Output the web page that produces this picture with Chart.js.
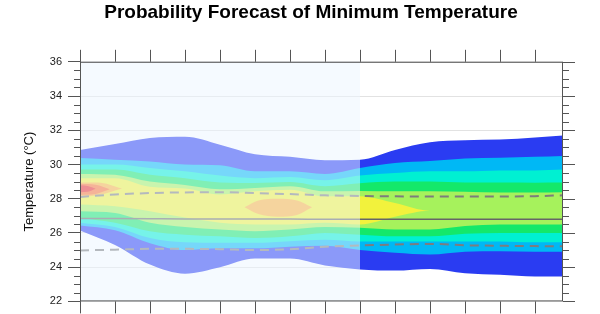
<!DOCTYPE html>
<html>
<head>
<meta charset="utf-8">
<script src="https://cdn.jsdelivr.net/npm/chart.js@4.4.0/dist/chart.umd.min.js"></script>
<style>
  html, body { margin: 0; padding: 0; background: #fff; }
</style>
</head>
<body>
<canvas id="chart" width="600" height="314"></canvas>
<script>
// forecast days (x axis), last point is the right edge of the plot
const days = [0, 1, 2, 3, 4, 5, 6, 7, 8, 9, 10, 11, 12, 13, 13.8];
const hindcastEnd = 8; // left part of the plot is shown faded
const dayTicks = [0, 1, 2, 3, 4, 5, 6, 7, 8, 9, 10, 11, 12, 13];
const tempTicks = [22, 24, 26, 28, 30, 32, 34, 36];

// probability contour boundaries, outermost to innermost (deg C)
const outerTop   = [30.85, 31.2, 31.55, 31.62, 31.16, 30.6, 30.45, 30.25, 30.28, 30.85, 31.3, 31.42, 31.46, 31.58, 31.7];
const blueTop    = [30.38, 30.28, 30.18, 30.0, 29.95, 29.6, 29.6, 29.45, 29.8, 30.09, 30.2, 30.35, 30.4, 30.45, 30.5];
const aquaTop    = [30.0, 30.0, 29.8, 29.6, 29.35, 29.2, 29.27, 29.08, 29.35, 29.5, 29.6, 29.6, 29.65, 29.65, 29.7];
const greenTop   = [29.7, 29.7, 29.4, 29.2, 28.95, 28.92, 28.98, 28.73, 28.9, 29.0, 29.0, 28.95, 28.95, 28.94, 28.95];
const limeTop    = [29.45, 29.4, 29.0, 28.8, 28.55, 28.63, 28.73, 28.43, 28.45, 28.43, 28.43, 28.4, 28.36, 28.36, 28.38];
const yellowTop  = [29.2, 29.2, 28.7, 28.6, 28.25, 28.43, 28.53, 28.14, 28.15, 27.75, 27.3, 27.3, 27.3, 27.3, 27.3];
const yellowBot  = [27.66, 27.56, 27.27, 26.9, 26.6, 26.5, 26.5, 26.6, 26.5, 26.95, 27.3, 27.3, 27.3, 27.3, 27.3];
const limeBot    = [27.27, 27.17, 26.6, 26.35, 26.2, 26.1, 26.2, 26.35, 26.3, 26.2, 26.2, 26.4, 26.5, 26.5, 26.5];
const greenBot   = [26.88, 26.6, 26.1, 25.9, 25.8, 25.7, 25.8, 26.0, 25.9, 25.8, 25.8, 25.95, 26.0, 26.0, 26.0];
const aquaBot    = [26.6, 26.35, 25.7, 25.45, 25.42, 25.42, 25.52, 25.6, 25.5, 25.5, 25.5, 25.5, 25.5, 25.45, 25.45];
const blueBot    = [26.43, 26.16, 25.4, 25.0, 25.1, 25.1, 25.2, 25.25, 25.0, 24.84, 24.74, 24.9, 24.93, 24.9, 24.9];
const outerBot   = [26.15, 25.3, 24.15, 23.62, 24.0, 24.5, 24.5, 24.1, 23.87, 23.8, 23.9, 23.65, 23.55, 23.45, 23.45];

// high probability cores
const coreDays     = [0, 0.5, 1.2];
const coreTop      = [28.95, 28.95, 28.6];
const coreBot      = [28.12, 28.2, 28.6];
const hotDays      = [0, 0.45, 0.85];
const hotTop       = [28.88, 28.82, 28.55];
const hotBot       = [28.22, 28.28, 28.55];
const peakDays     = [0, 0.22, 0.45];
const peakTop      = [28.78, 28.74, 28.58];
const peakBot      = [28.38, 28.4, 28.58];
const midCoreDays  = [4.7, 5.1, 5.65, 6.2, 6.63];
const midCoreTop   = [27.5, 27.9, 28.0, 27.9, 27.5];
const midCoreBot   = [27.5, 27.1, 26.95, 27.05, 27.5];

// median and 10/90 percentile lines
const median   = [26.85, 26.84, 26.83, 26.82, 26.82, 26.81, 26.81, 26.8, 26.8, 26.8, 26.8, 26.8, 26.8, 26.8, 26.8];
const upperPct = [28.1, 28.25, 28.33, 28.37, 28.38, 28.33, 28.27, 28.2, 28.16, 28.14, 28.13, 28.13, 28.13, 28.15, 28.2];
const lowerPct = [24.98, 25.02, 25.07, 25.07, 25.05, 25.0, 25.05, 25.2, 25.27, 25.32, 25.36, 25.28, 25.25, 25.23, 25.22];

function pts(xs, ys) {
    return xs.map((x, i) => ({ x: x, y: ys[i] }));
}

const hidden = { borderColor: 'rgba(0,0,0,0)', borderWidth: 0, pointRadius: 0, cubicInterpolationMode: 'monotone' };

function band(xs, lower, upper, color, order) {
    return [
        Object.assign({ data: pts(xs, lower), fill: false, order: order }, hidden),
        Object.assign({ data: pts(xs, upper), fill: '-1', backgroundColor: color, order: order }, hidden)
    ];
}

function line(ys, color, width, dash) {
    return {
        data: pts(days, ys),
        borderColor: color,
        borderWidth: width,
        borderDash: dash,
        pointRadius: 0,
        fill: false,
        cubicInterpolationMode: 'monotone',
        order: 0
    };
}

const datasets = [
    line(median, '#666666', 1.5, []),
    line(upperPct, '#7d7d7d', 2, [9, 6]),
    line(lowerPct, '#7d7d7d', 2, [9, 6]),
    ...band(days, outerBot, outerTop, '#2a3cf2', 20),
    ...band(days, blueBot, blueTop, '#00b8f5', 19),
    ...band(days, aquaBot, aquaTop, '#00f0d2', 18),
    ...band(days, greenBot, greenTop, '#14e86a', 17),
    ...band(days, limeBot, limeTop, '#a6f25c', 16),
    ...band(days, yellowBot, yellowTop, '#f2f23c', 15),
    ...band(coreDays, coreBot, coreTop, '#ffb23c', 14),
    ...band(midCoreDays, midCoreBot, midCoreTop, '#ffb23c', 14),
    ...band(hotDays, hotBot, hotTop, '#ff7030', 13),
    ...band(peakDays, peakBot, peakTop, '#f02828', 12)
];

// pale wash over the hindcast part
const fadePlugin = {
    id: 'fade',
    afterDatasetsDraw(chart) {
        const { ctx, chartArea, scales } = chart;
        const xEnd = scales.x.getPixelForValue(hindcastEnd);
        ctx.save();
        ctx.fillStyle = 'rgba(235, 245, 255, 0.5)';
        ctx.fillRect(chartArea.left, chartArea.top, xEnd - chartArea.left, chartArea.bottom - chartArea.top);
        ctx.restore();
    }
};

// frame with outward tick marks on all four sides
const framePlugin = {
    id: 'frame',
    afterDraw(chart) {
        const { ctx, chartArea, scales } = chart;
        const { left, right, top, bottom } = chartArea;
        ctx.save();
        ctx.strokeStyle = '#555';
        ctx.lineWidth = 1;
        ctx.strokeRect(left + 0.5, top + 0.5, right - left - 1, bottom - top - 1);
        ctx.beginPath();
        dayTicks.forEach(d => {
            const px = Math.round(scales.x.getPixelForValue(d)) + 0.5;
            ctx.moveTo(px, top); ctx.lineTo(px, top - 12);
            ctx.moveTo(px, bottom); ctx.lineTo(px, bottom + 12);
        });
        for (let v = 22; v <= 36; v += 0.5) {
            const py = Math.round(scales.y.getPixelForValue(v)) + 0.5;
            const major = tempTicks.includes(v);
            ctx.moveTo(right, py); ctx.lineTo(right + (major ? 12 : 6), py);
            if (!major) { ctx.moveTo(left, py); ctx.lineTo(left - 6, py); }
        }
        ctx.stroke();
        ctx.restore();
    }
};

new Chart(document.getElementById('chart'), {
    type: 'line',
    data: { datasets: datasets },
    options: {
        responsive: false,
        animation: false,
        layout: { padding: { left: 22, right: 0, top: 0, bottom: 12 } },
        plugins: {
            legend: { display: false },
            tooltip: { enabled: false },
            title: {
                display: true,
                text: 'Probability Forecast of Minimum Temperature',
                color: '#000',
                font: { family: '"Liberation Sans", Arial, sans-serif', size: 19, weight: 'bold' },
                padding: { top: 1, bottom: 38 }
            }
        },
        scales: {
            x: { type: 'linear', min: 0, max: 13.8, display: false },
            y: {
                min: 22, max: 36,
                position: 'left',
                z: 1,
                afterFit: scale => { scale.width = 58; },
                ticks: {
                    stepSize: 2,
                    padding: 6,
                    color: '#222',
                    font: { family: '"Liberation Sans", Arial, sans-serif', size: 11 }
                },
                grid: { color: 'rgba(190, 190, 190, 0.45)', tickColor: '#555', tickLength: 12 },
                border: { display: true, color: '#555' },
                title: {
                    display: true,
                    text: 'Temperature (°C)',
                    color: '#111',
                    padding: 0,
                    font: { family: '"Liberation Sans", Arial, sans-serif', size: 13 }
                }
            },
            yr: {
                min: 22, max: 36,
                position: 'right',
                afterFit: scale => { scale.width = 37; },
                ticks: { display: false },
                grid: { display: false },
                border: { display: false }
            }
        }
    },
    plugins: [fadePlugin, framePlugin]
});
</script>
</body>
</html>
